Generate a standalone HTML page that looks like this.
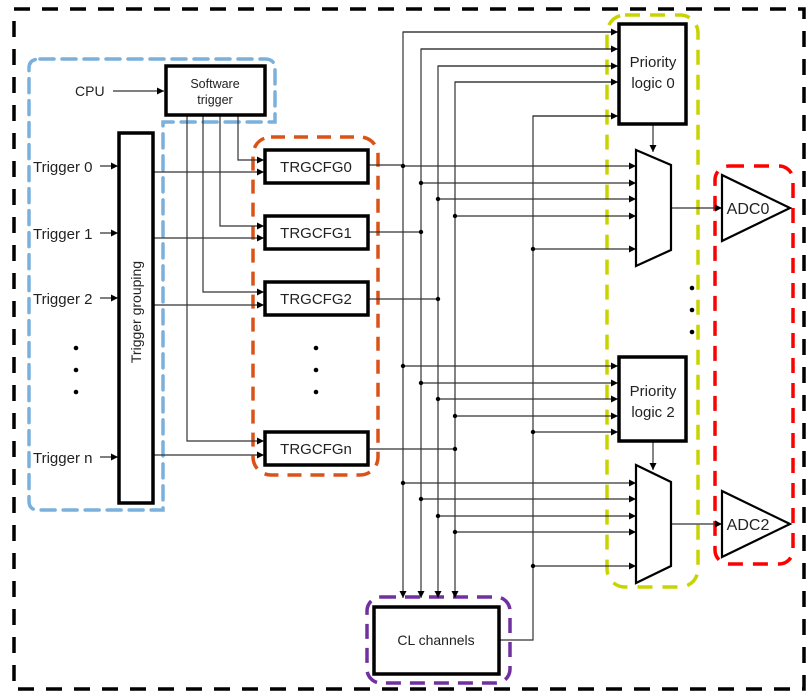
<!DOCTYPE html>
<html><head><meta charset="utf-8"><style>
html,body{margin:0;padding:0;background:#fff}
svg{display:block}
text{font-family:"Liberation Sans","DejaVu Sans",sans-serif;fill:#222}
</style></head><body>
<svg width="811" height="698" viewBox="0 0 811 698" xmlns="http://www.w3.org/2000/svg">
<defs>
<marker id="a" markerWidth="8" markerHeight="8" refX="7" refY="4" orient="auto" markerUnits="userSpaceOnUse">
<path d="M0,0.5 L7,4 L0,7.5 z" fill="#000"/></marker>
</defs>
<rect x="14" y="9" width="790" height="680" fill="none" stroke="#000" stroke-width="3.5" stroke-dasharray="16,12"/>
<path d="M40,59 H265 Q275,59 275,69 V122 H163 V510 H38 Q29,510 29,501 V68 Q29,59 40,59 Z" fill="none" stroke="#7ab0dc" stroke-width="3.5" stroke-dasharray="14,8" stroke-linecap="round"/>
<rect x="253" y="137" width="125" height="338" rx="18" fill="none" stroke="#d95319" stroke-width="3.5" stroke-dasharray="14,9"/>
<rect x="607" y="15" width="91" height="572" rx="18" fill="none" stroke="#c8d400" stroke-width="3.5" stroke-dasharray="15,10"/>
<rect x="715" y="166" width="78" height="398" rx="14" fill="none" stroke="#ff0000" stroke-width="3.5" stroke-dasharray="15,10"/>
<rect x="367" y="597" width="143" height="86" rx="14" fill="none" stroke="#7030a0" stroke-width="3.5" stroke-dasharray="15,9"/>

<g stroke="#333" stroke-width="1.2" fill="none">
<line x1="113" y1="91" x2="164" y2="91" marker-end="url(#a)"/>
<line x1="100" y1="166" x2="118" y2="166" marker-end="url(#a)"/>
<line x1="100" y1="233" x2="118" y2="233" marker-end="url(#a)"/>
<line x1="100" y1="298" x2="118" y2="298" marker-end="url(#a)"/>
<line x1="100" y1="457" x2="118" y2="457" marker-end="url(#a)"/>
<line x1="153" y1="172" x2="264" y2="172" marker-end="url(#a)"/>
<line x1="153" y1="238" x2="264" y2="238" marker-end="url(#a)"/>
<line x1="153" y1="305" x2="264" y2="305" marker-end="url(#a)"/>
<line x1="153" y1="455" x2="264" y2="455" marker-end="url(#a)"/>
<polyline points="238,115 238,160 264,160" marker-end="url(#a)"/>
<polyline points="220,115 220,226 264,226" marker-end="url(#a)"/>
<polyline points="203,115 203,292 264,292" marker-end="url(#a)"/>
<polyline points="187,115 187,441 264,441" marker-end="url(#a)"/>
<line x1="368" y1="165" x2="403" y2="165"/>
<line x1="368" y1="232" x2="421" y2="232"/>
<line x1="368" y1="299" x2="438" y2="299"/>
<line x1="368" y1="449" x2="455" y2="449"/>
<polyline points="618,32 403,32 403,598" marker-end="url(#a)"/>
<polyline points="618,49 421,49 421,598" marker-end="url(#a)"/>
<polyline points="618,66 438,66 438,598" marker-end="url(#a)"/>
<polyline points="618,82 455,82 455,598" marker-end="url(#a)"/>
<polyline points="618,116 533,116 533,640 499,640" />
<line x1="533" y1="116" x2="618" y2="116" marker-end="url(#a)"/>
<line x1="403" y1="32" x2="618" y2="32" marker-end="url(#a)"/>
<line x1="421" y1="49" x2="618" y2="49" marker-end="url(#a)"/>
<line x1="438" y1="66" x2="618" y2="66" marker-end="url(#a)"/>
<line x1="455" y1="82" x2="618" y2="82" marker-end="url(#a)"/>
<line x1="403" y1="166" x2="636" y2="166" marker-end="url(#a)"/>
<line x1="421" y1="183" x2="636" y2="183" marker-end="url(#a)"/>
<line x1="438" y1="199" x2="636" y2="199" marker-end="url(#a)"/>
<line x1="455" y1="216" x2="636" y2="216" marker-end="url(#a)"/>
<line x1="533" y1="249" x2="636" y2="249" marker-end="url(#a)"/>
<line x1="403" y1="366" x2="618" y2="366" marker-end="url(#a)"/>
<line x1="421" y1="383" x2="618" y2="383" marker-end="url(#a)"/>
<line x1="438" y1="399" x2="618" y2="399" marker-end="url(#a)"/>
<line x1="455" y1="416" x2="618" y2="416" marker-end="url(#a)"/>
<line x1="533" y1="432" x2="618" y2="432" marker-end="url(#a)"/>
<line x1="403" y1="483" x2="636" y2="483" marker-end="url(#a)"/>
<line x1="421" y1="499" x2="636" y2="499" marker-end="url(#a)"/>
<line x1="438" y1="516" x2="636" y2="516" marker-end="url(#a)"/>
<line x1="455" y1="532" x2="636" y2="532" marker-end="url(#a)"/>
<line x1="533" y1="566" x2="636" y2="566" marker-end="url(#a)"/>
<line x1="653" y1="124" x2="653" y2="152" marker-end="url(#a)"/>
<line x1="653" y1="441" x2="653" y2="470" marker-end="url(#a)"/>
<line x1="671" y1="208" x2="722" y2="208" marker-end="url(#a)"/>
<line x1="671" y1="524" x2="722" y2="524" marker-end="url(#a)"/>
</g>
<g fill="#000">
<circle cx="403" cy="166" r="2.2"/><circle cx="421" cy="183" r="2.2"/><circle cx="438" cy="199" r="2.2"/><circle cx="455" cy="216" r="2.2"/><circle cx="533" cy="249" r="2.2"/>
<circle cx="421" cy="232" r="2.2"/><circle cx="438" cy="299" r="2.2"/><circle cx="455" cy="449" r="2.2"/>
<circle cx="403" cy="366" r="2.2"/><circle cx="421" cy="383" r="2.2"/><circle cx="438" cy="399" r="2.2"/><circle cx="455" cy="416" r="2.2"/><circle cx="533" cy="432" r="2.2"/>
<circle cx="403" cy="483" r="2.2"/><circle cx="421" cy="499" r="2.2"/><circle cx="438" cy="516" r="2.2"/><circle cx="455" cy="532" r="2.2"/><circle cx="533" cy="566" r="2.2"/>
<circle cx="76" cy="348" r="2.3"/><circle cx="76" cy="370" r="2.3"/><circle cx="76" cy="392" r="2.3"/>
<circle cx="316" cy="348" r="2.3"/><circle cx="316" cy="370" r="2.3"/><circle cx="316" cy="392" r="2.3"/>
<circle cx="692" cy="288" r="2.3"/><circle cx="692" cy="310" r="2.3"/><circle cx="692" cy="332" r="2.3"/>
</g>
<g fill="#fff" stroke="#000" stroke-width="3.5">
<rect x="166" y="66" width="99" height="49"/>
<rect x="119" y="133" width="34" height="370"/>
<rect x="265" y="150" width="103" height="33"/>
<rect x="265" y="216" width="103" height="33"/>
<rect x="265" y="282" width="103" height="33"/>
<rect x="265" y="432" width="103" height="33"/>
<rect x="619" y="24" width="67" height="100"/>
<rect x="619" y="357" width="67" height="84"/>
<rect x="374" y="607" width="125" height="67"/>
</g>
<g fill="#fff" stroke="#000" stroke-width="2.2">
<polygon points="636,150 671,165 671,250 636,266"/>
<polygon points="636,465 671,482 671,566 636,583"/>
<polygon points="722,175 790,208 722,241"/>
<polygon points="722,491 790,524 722,557"/>
</g>
<g font-size="14">
<text x="75" y="96">CPU</text>
<text x="33" y="172" font-size="15">Trigger 0</text>
<text x="33" y="239" font-size="15">Trigger 1</text>
<text x="33" y="304" font-size="15">Trigger 2</text>
<text x="33" y="463" font-size="15">Trigger n</text>
<text x="316" y="172" text-anchor="middle" font-size="15">TRGCFG0</text>
<text x="316" y="238" text-anchor="middle" font-size="15">TRGCFG1</text>
<text x="316" y="304" text-anchor="middle" font-size="15">TRGCFG2</text>
<text x="316" y="454" text-anchor="middle" font-size="15">TRGCFGn</text>
<text x="653" y="67" text-anchor="middle" font-size="15">Priority</text>
<text x="653" y="88" text-anchor="middle" font-size="15">logic 0</text>
<text x="653" y="396" text-anchor="middle" font-size="15">Priority</text>
<text x="653" y="417" text-anchor="middle" font-size="15">logic 2</text>
<text x="748" y="214" text-anchor="middle" font-size="16">ADC0</text>
<text x="748" y="530" text-anchor="middle" font-size="16">ADC2</text>
<text x="436" y="645" text-anchor="middle">CL channels</text>
<text x="215" y="88" text-anchor="middle" font-size="12.5">Software</text>
<text x="215" y="104" text-anchor="middle" font-size="12.5">trigger</text>
<text transform="translate(141,312) rotate(-90)" text-anchor="middle" font-size="14">Trigger grouping</text>
</g>
</svg>
</body></html>
